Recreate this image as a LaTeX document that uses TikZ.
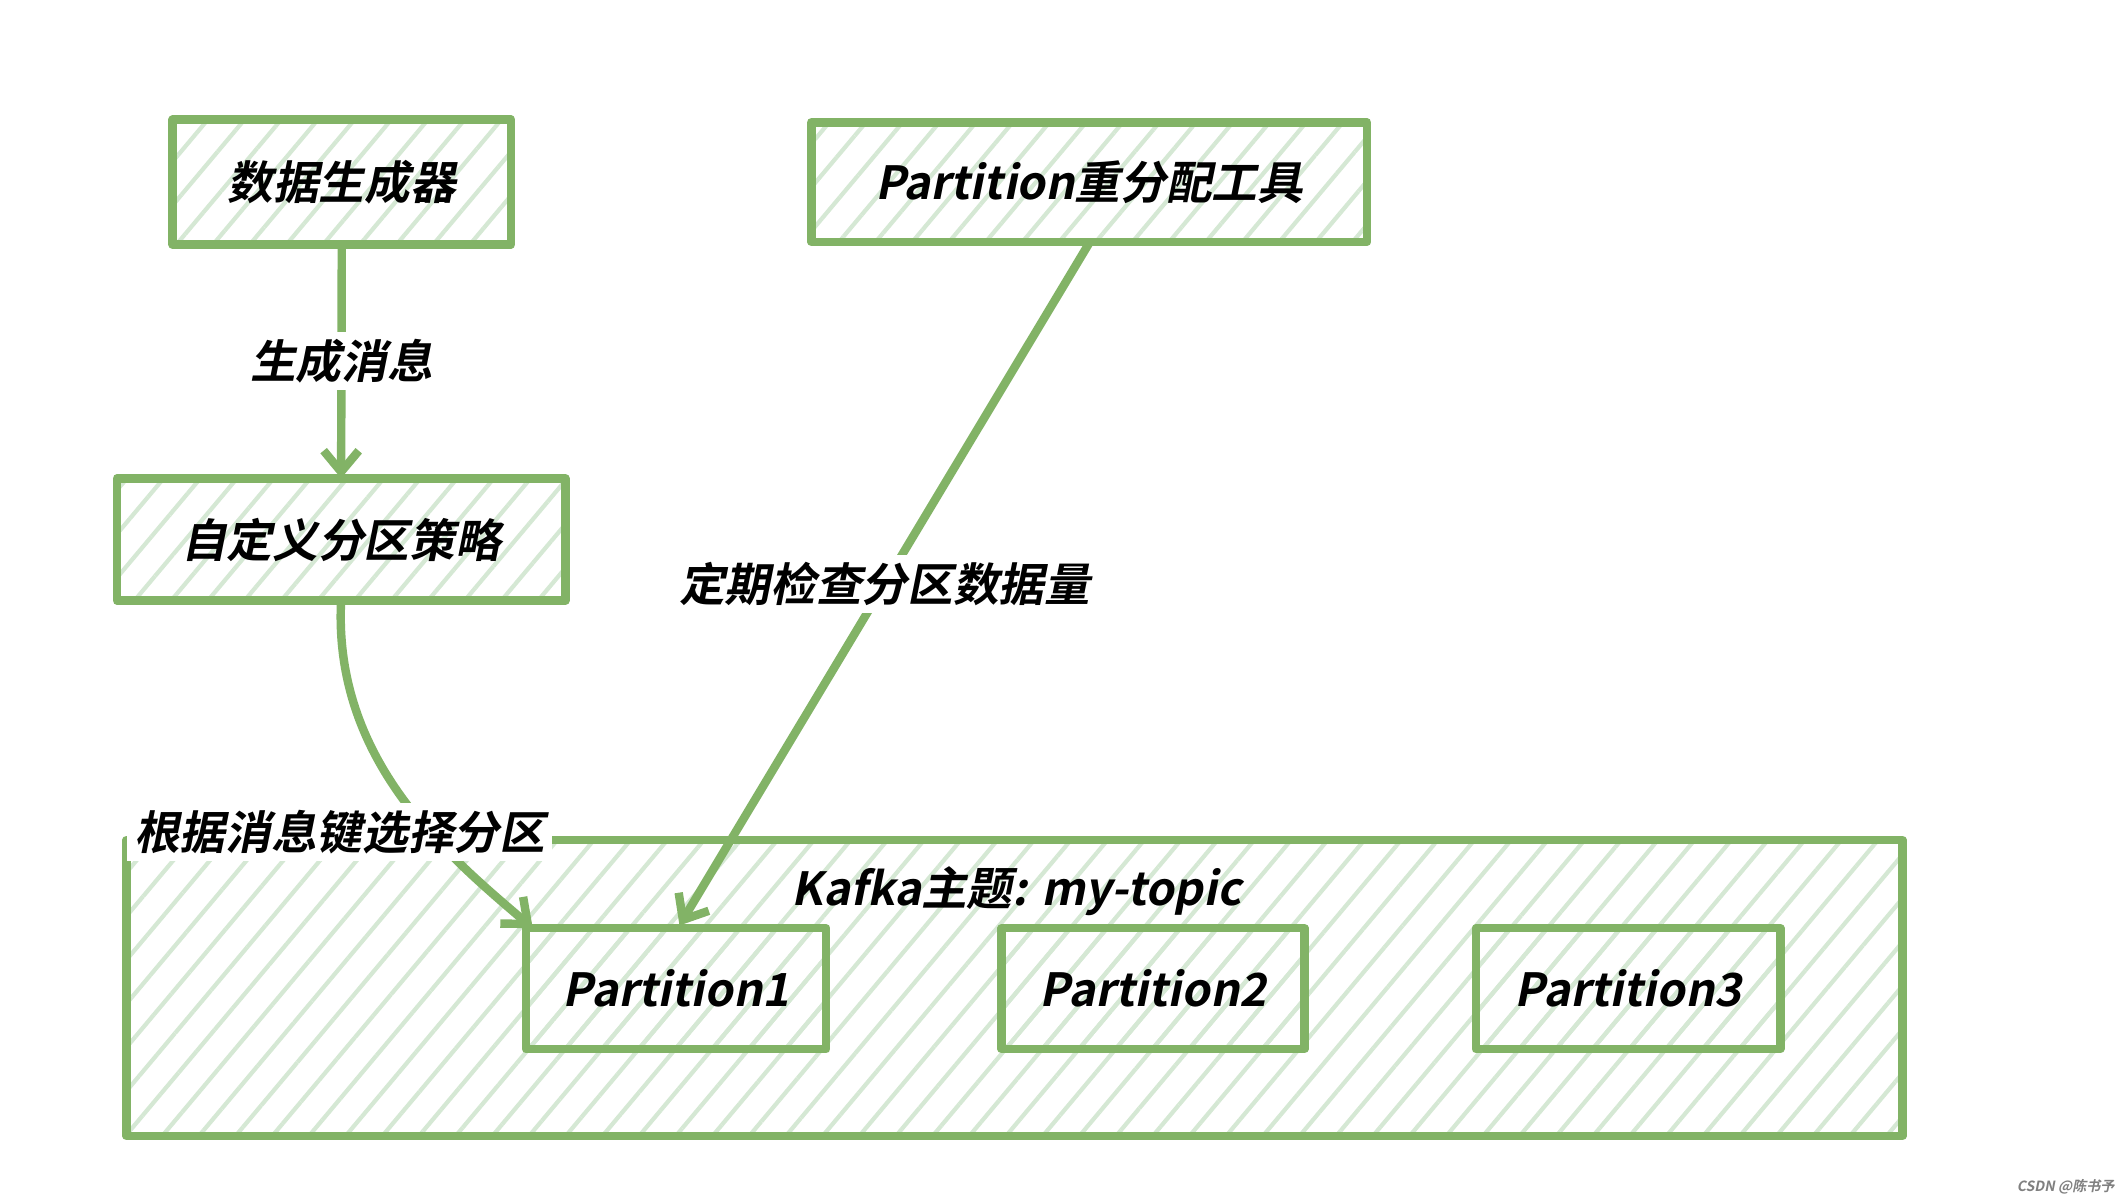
\documentclass[tikz,border=0pt]{standalone}
\usepackage{fontspec}
\newfontfamily\cjk{Noto Sans CJK SC}[UprightFont=* Bold,FakeSlant=0.2]
\usetikzlibrary{patterns.meta,arrows.meta}
\definecolor{kgreen}{HTML}{82B366}
\definecolor{khatch}{HTML}{D5E8D4}
\tikzset{
  box/.style={draw=kgreen,line width=2.4pt,pattern={Lines[angle=50,distance=8pt,line width=1.2pt]},pattern color=khatch,line join=round},
  lbl/.style={font=\cjk\fontsize{13}{15}\selectfont},
  link/.style={draw=kgreen,line width=2.4pt,-{Straight Barb[length=6pt,width=10pt]}}
}
\begin{document}
\begin{tikzpicture}[x=0.01359cm,y=-0.01359cm]
  \useasboundingbox (0,0) rectangle (1560,881.6);
  % boxes
  \draw[box] (127,88) rectangle (376,180);
  \draw[box] (597,90) rectangle (1006,178);
  \draw[box] (86,352) rectangle (416,442);
  \draw[box] (93,618) rectangle (1400,836);
  \draw[box] (387,683) rectangle (608,772);
  \draw[box] (737,683) rectangle (960,772);
  \draw[box] (1086,683) rectangle (1310,772);
  % nodes
  \node[lbl] (gen) at (251.5,134) {数据生成器};
  \node[lbl] (tool) at (801.5,134) {Partition重分配工具};
  \node[lbl] (strat) at (251,397) {自定义分区策略};
  \node[lbl] (topic) at (748,656) {Kafka主题: my-topic};
  \node[lbl] (p1) at (497.5,727) {Partition1};
  \node[lbl] (p2) at (848.5,727) {Partition2};
  \node[lbl] (p3) at (1198,727) {Partition3};
  \coordinate (genS) at (251.5,180);
  \coordinate (stratN) at (251,352);
  \coordinate (stratS) at (251,442);
  \coordinate (toolS) at (802,178);
  \coordinate (p1N) at (500,681);
  \coordinate (p1W) at (392,683);
  % connectors
  \draw[link] (genS) -- node[lbl,fill=white,inner sep=2pt] {生成消息} (stratN);
  \draw[link] (stratS) .. controls (245,560) and (330,630) .. (p1W);
  \draw[link] (toolS) -- node[pos=0.5,lbl,fill=white,inner sep=2pt] {定期检查分区数据量} (p1N);
  \node[lbl,fill=white,inner sep=2pt] (key) at (250,612) {根据消息键选择分区};
  \node[font=\cjk\fontsize{4}{5}\selectfont,text=gray] (mark) at (1520,873) {CSDN @陈书予};
\end{tikzpicture}
\end{document}
